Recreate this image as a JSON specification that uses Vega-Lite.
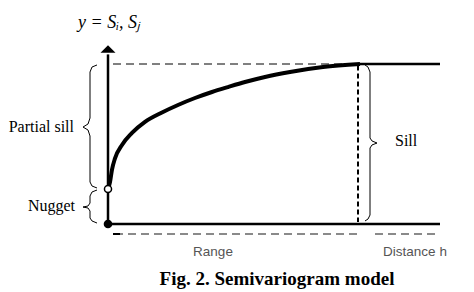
{
  "$schema": "https://vega.github.io/schema/vega-lite/v6.json",
  "width": 474,
  "height": 292,
  "padding": 0,
  "autosize": {"type": "fit", "contains": "padding"},
  "background": "white",
  "config": {"view": {"stroke": null}},
  "encoding": {
    "x": {"field": "h", "type": "quantitative", "scale": {"domain": [-4.32, 14.64], "nice": false, "zero": false}, "axis": null},
    "y": {"field": "g", "type": "quantitative", "scale": {"domain": [-0.425, 1.4], "nice": false, "zero": false}, "axis": null}
  },
  "layer": [
    {
      "data": {"values": [{"h": 0.2, "g": 1}, {"h": 10.08, "g": 1}]},
      "mark": {"type": "line", "color": "black", "strokeWidth": 1, "strokeDash": [8, 5]}
    },
    {
      "data": {"values": [{"h": 10.0, "g": 0.99}, {"h": 10.0, "g": 0.0125}]},
      "mark": {"type": "line", "color": "black", "strokeWidth": 2, "strokeDash": [5, 3]},
      "encoding": {"order": {"field": "g", "sort": "descending"}}
    },
    {
      "data": {"values": [
        {"seg": "a", "h": 0.28, "g": -0.0625}, {"seg": "a", "h": 10.16, "g": -0.0625},
        {"seg": "b", "h": 10.68, "g": -0.0625}, {"seg": "b", "h": 13.2, "g": -0.0625}
      ]},
      "mark": {"type": "line", "color": "#8a8a8a", "strokeWidth": 2, "strokeDash": [8, 5]},
      "encoding": {"detail": {"field": "seg"}}
    },
    {
      "data": {"values": [{"h": 0.2, "g": -0.0625}, {"h": 0.48, "g": -0.0625}]},
      "mark": {"type": "line", "color": "black", "strokeWidth": 2}
    },
    {
      "data": {"values": [
        {"seg": "yaxis", "i": 0, "h": 0, "g": 0}, {"seg": "yaxis", "i": 1, "h": 0, "g": 1.06},
        {"seg": "xaxis", "i": 0, "h": 0, "g": 0}, {"seg": "xaxis", "i": 1, "h": 13.28, "g": 0},
        {"seg": "sill", "i": 0, "h": 10.08, "g": 1}, {"seg": "sill", "i": 1, "h": 13.28, "g": 1}
      ]},
      "mark": {"type": "line", "color": "black", "strokeWidth": 2.5},
      "encoding": {"detail": {"field": "seg"}, "order": {"field": "i"}}
    },
    {
      "data": {"values": [
        {"h": 0, "g": 0.219}, {"h": 0.08, "g": 0.262}, {"h": 0.16, "g": 0.34}, {"h": 0.28, "g": 0.41},
        {"h": 0.56, "g": 0.494}, {"h": 0.96, "g": 0.569}, {"h": 1.48, "g": 0.638}, {"h": 2.16, "g": 0.697},
        {"h": 2.8, "g": 0.744}, {"h": 3.48, "g": 0.7875}, {"h": 4.16, "g": 0.825}, {"h": 4.8, "g": 0.856},
        {"h": 5.48, "g": 0.8875}, {"h": 6.28, "g": 0.919}, {"h": 7.28, "g": 0.95}, {"h": 8.6, "g": 0.981},
        {"h": 10.08, "g": 1.0}
      ]},
      "mark": {"type": "line", "color": "black", "strokeWidth": 4, "interpolate": "monotone"}
    },
    {
      "data": {"values": [
        {"b": "ps", "i": 0, "h": -0.44, "g": 0.994}, {"b": "ps", "i": 1, "h": -0.64, "g": 0.981}, {"b": "ps", "i": 2, "h": -0.72, "g": 0.95},
        {"b": "ps", "i": 3, "h": -0.72, "g": 0.6625}, {"b": "ps", "i": 4, "h": -0.8, "g": 0.625}, {"b": "ps", "i": 5, "h": -1.0, "g": 0.606},
        {"b": "ps", "i": 6, "h": -0.8, "g": 0.5875}, {"b": "ps", "i": 7, "h": -0.72, "g": 0.55}, {"b": "ps", "i": 8, "h": -0.72, "g": 0.2625},
        {"b": "ps", "i": 9, "h": -0.64, "g": 0.2375}, {"b": "ps", "i": 10, "h": -0.44, "g": 0.225},
        {"b": "ng", "i": 0, "h": -0.44, "g": 0.2125}, {"b": "ng", "i": 1, "h": -0.64, "g": 0.2}, {"b": "ng", "i": 2, "h": -0.72, "g": 0.175},
        {"b": "ng", "i": 3, "h": -0.72, "g": 0.131}, {"b": "ng", "i": 4, "h": -0.8, "g": 0.1125}, {"b": "ng", "i": 5, "h": -1.0, "g": 0.106},
        {"b": "ng", "i": 6, "h": -0.8, "g": 0.1}, {"b": "ng", "i": 7, "h": -0.72, "g": 0.081}, {"b": "ng", "i": 8, "h": -0.72, "g": 0.0375},
        {"b": "ng", "i": 9, "h": -0.64, "g": 0.019}, {"b": "ng", "i": 10, "h": -0.44, "g": 0.006},
        {"b": "sl", "i": 0, "h": 10.28, "g": 0.994}, {"b": "sl", "i": 1, "h": 10.4, "g": 0.981}, {"b": "sl", "i": 2, "h": 10.48, "g": 0.95},
        {"b": "sl", "i": 3, "h": 10.48, "g": 0.5375}, {"b": "sl", "i": 4, "h": 10.56, "g": 0.519}, {"b": "sl", "i": 5, "h": 10.76, "g": 0.506},
        {"b": "sl", "i": 6, "h": 10.56, "g": 0.494}, {"b": "sl", "i": 7, "h": 10.48, "g": 0.475}, {"b": "sl", "i": 8, "h": 10.48, "g": 0.056},
        {"b": "sl", "i": 9, "h": 10.4, "g": 0.031}, {"b": "sl", "i": 10, "h": 10.28, "g": 0.019}
      ]},
      "mark": {"type": "line", "color": "black", "strokeWidth": 1, "interpolate": "linear"},
      "encoding": {"detail": {"field": "b"}, "order": {"field": "i"}}
    },
    {
      "data": {"values": [{"h": 0, "g": 1.094}]},
      "mark": {"type": "point", "shape": "M-1,0.5L0,-0.5L1,0.5Z", "size": 225, "filled": true, "color": "black", "opacity": 1}
    },
    {
      "data": {"values": [{"h": 0, "g": 0}]},
      "mark": {"type": "point", "shape": "circle", "size": 75, "filled": true, "color": "black", "opacity": 1}
    },
    {
      "data": {"values": [{"h": 0, "g": 0.219}]},
      "mark": {"type": "point", "shape": "circle", "size": 50, "filled": true, "fill": "white", "stroke": "black", "strokeWidth": 1.5, "opacity": 1}
    },
    {
      "data": {"values": [{"h": 0.04, "g": 1.225, "t": "y = Sᵢ, Sⱼ"}]},
      "mark": {"type": "text", "font": "Liberation Serif", "fontStyle": "italic", "fontSize": 18, "align": "center", "baseline": "alphabetic", "color": "black"},
      "encoding": {"text": {"field": "t"}}
    },
    {
      "data": {"values": [
        {"h": -1.36, "g": 0.606, "t": "Partial sill"},
        {"h": -1.32, "g": 0.1125, "t": "Nugget"}
      ]},
      "mark": {"type": "text", "font": "Liberation Serif", "fontSize": 16, "align": "right", "baseline": "middle", "color": "black"},
      "encoding": {"text": {"field": "t"}}
    },
    {
      "data": {"values": [{"h": 11.48, "g": 0.519, "t": "Sill"}]},
      "mark": {"type": "text", "font": "Liberation Serif", "fontSize": 16, "align": "left", "baseline": "middle", "color": "black"},
      "encoding": {"text": {"field": "t"}}
    },
    {
      "data": {"values": [
        {"h": 4.2, "g": -0.175, "t": "Range"},
        {"h": 12.28, "g": -0.175, "t": "Distance h"}
      ]},
      "mark": {"type": "text", "font": "Liberation Sans", "fontSize": 13.5, "align": "center", "baseline": "middle", "color": "#555555"},
      "encoding": {"text": {"field": "t"}}
    },
    {
      "data": {"values": [{"h": 6.76, "g": -0.344, "t": "Fig. 2. Semivariogram model"}]},
      "mark": {"type": "text", "font": "Liberation Serif", "fontWeight": "bold", "fontSize": 19, "align": "center", "baseline": "middle", "color": "black"},
      "encoding": {"text": {"field": "t"}}
    }
  ]
}
